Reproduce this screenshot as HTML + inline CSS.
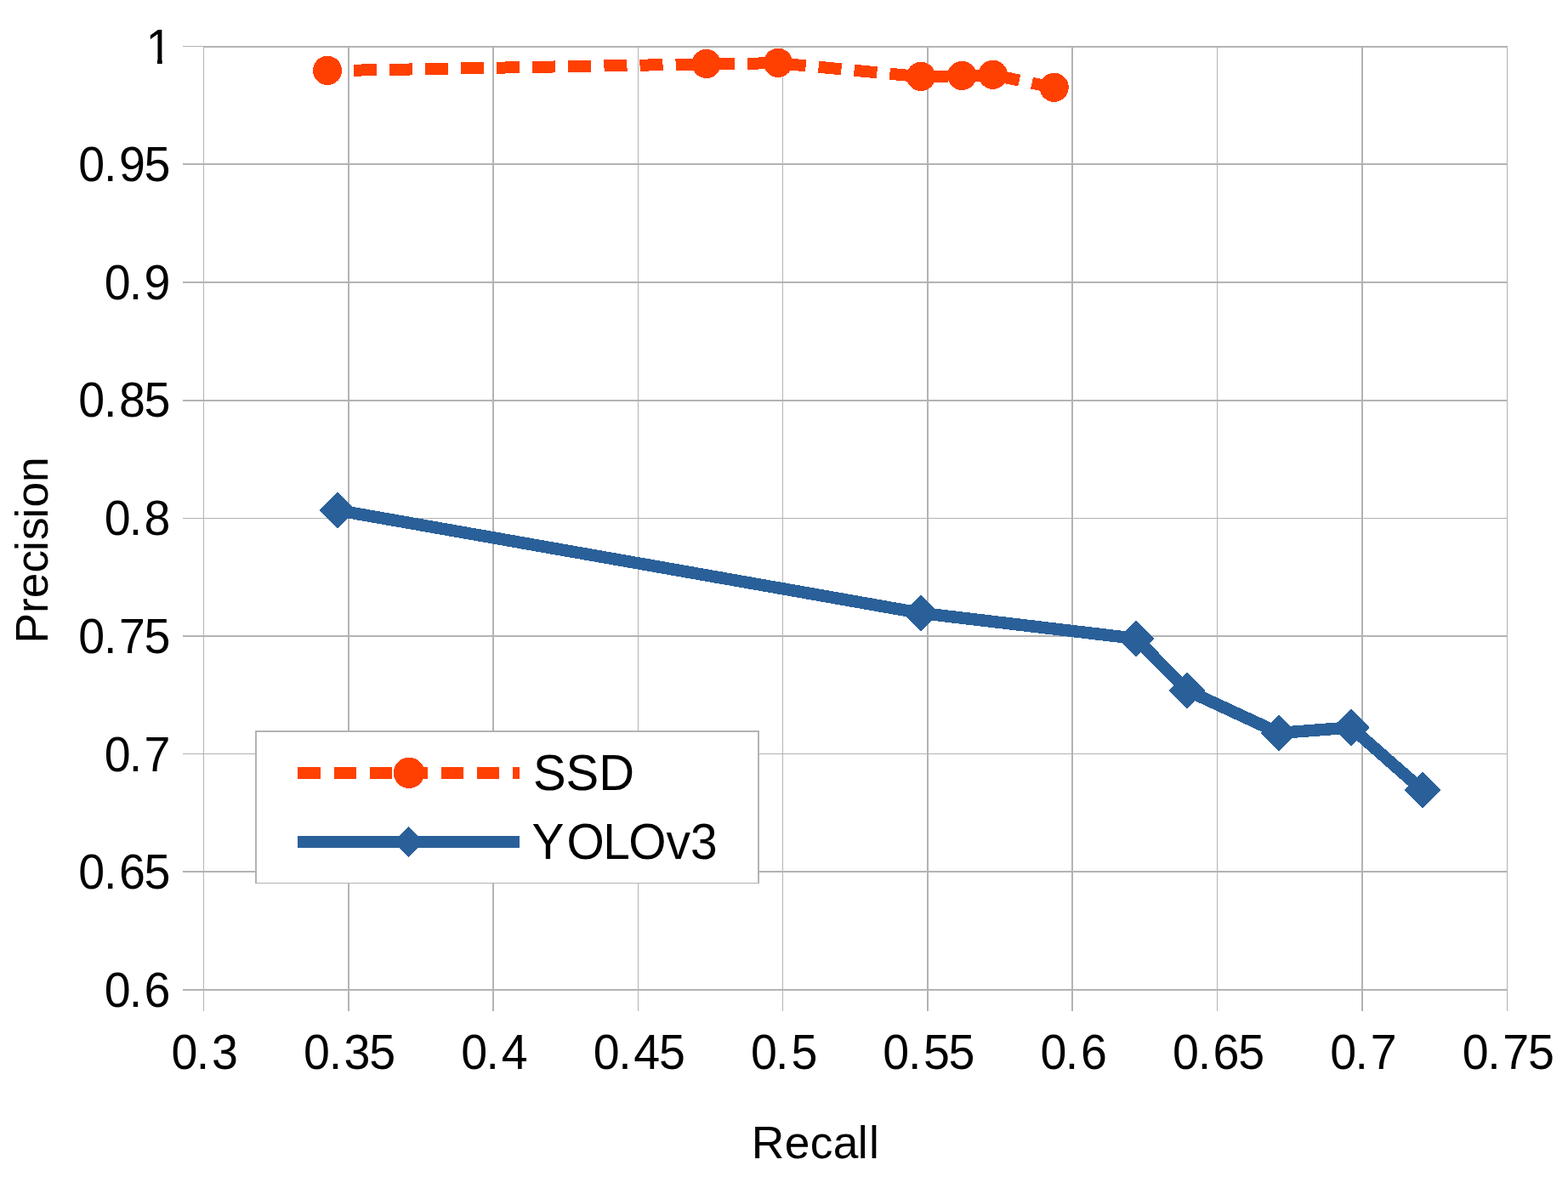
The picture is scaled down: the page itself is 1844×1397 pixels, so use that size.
<!DOCTYPE html>
<html lang="en">
<head>
<meta charset="utf-8">
<title>Precision vs Recall: SSD and YOLOv3</title>
<style>
html,body{margin:0;padding:0;background:#fff;width:1844px;height:1397px;overflow:hidden}
svg{display:block;position:absolute;left:0;top:0}
text{font-family:"Liberation Sans",Arial,Helvetica,sans-serif;fill:#000;white-space:pre}
.grid rect{fill:#b3b3b3}
.ssd{stroke:#ff4000;fill:none}
.ssd-m{fill:#ff4000}
.yolo{stroke:#2a6099;fill:none}
.yolo-m{fill:#2a6099}
</style>
</head>
<body>
<svg width="1844" height="1397" viewBox="0 0 1844 1397" role="img" aria-label="Precision-recall chart comparing SSD and YOLOv3">
<rect x="0" y="0" width="1844" height="1397" fill="#fff"/>
<g class="grid" shape-rendering="crispEdges">
<rect x="215" y="54" width="1558" height="1"/>
<rect x="239" y="55" width="1534" height="1"/>
<rect x="215" y="192" width="1558" height="2"/>
<rect x="215" y="331" width="1558" height="2"/>
<rect x="215" y="470" width="1558" height="2"/>
<rect x="215" y="609" width="1558" height="1"/>
<rect x="215" y="747" width="1558" height="2"/>
<rect x="215" y="886" width="1558" height="1"/>
<rect x="215" y="1024" width="1558" height="2"/>
<rect x="215" y="1163" width="1558" height="2"/>
<rect x="239" y="54" width="1" height="1135"/>
<rect x="409" y="54" width="2" height="1135"/>
<rect x="579" y="54" width="2" height="1135"/>
<rect x="750" y="54" width="1" height="1135"/>
<rect x="920" y="54" width="1" height="1135"/>
<rect x="1090" y="54" width="2" height="1135"/>
<rect x="1260" y="54" width="2" height="1135"/>
<rect x="1431" y="54" width="1" height="1135"/>
<rect x="1601" y="54" width="2" height="1135"/>
<rect x="1772" y="54" width="1" height="1135"/>
</g>
<g shape-rendering="crispEdges">
<polyline class="yolo" points="397.06,600.08 1083.24,720.96 1336.06,750.90 1396.20,811.95 1504.16,862.00 1588.90,855.40 1672.80,929.10" stroke-width="14.40" stroke-linejoin="round"/>
<polygon class="yolo-m" stroke="#2a6099" stroke-width="1" stroke-linejoin="bevel" points="397.00,579.00 418.00,600.00 397.00,621.00 376.00,600.00"/>
<polygon class="yolo-m" stroke="#2a6099" stroke-width="1" stroke-linejoin="bevel" points="1083.20,699.95 1104.20,720.95 1083.20,741.95 1062.20,720.95"/>
<polygon class="yolo-m" stroke="#2a6099" stroke-width="1" stroke-linejoin="bevel" points="1336.05,729.90 1357.05,750.90 1336.05,771.90 1315.05,750.90"/>
<polygon class="yolo-m" stroke="#2a6099" stroke-width="1" stroke-linejoin="bevel" points="1396.20,790.95 1417.20,811.95 1396.20,832.95 1375.20,811.95"/>
<polygon class="yolo-m" stroke="#2a6099" stroke-width="1" stroke-linejoin="bevel" points="1504.15,841.00 1525.15,862.00 1504.15,883.00 1483.15,862.00"/>
<polygon class="yolo-m" stroke="#2a6099" stroke-width="1" stroke-linejoin="bevel" points="1588.95,834.40 1609.95,855.40 1588.95,876.40 1567.95,855.40"/>
<polygon class="yolo-m" stroke="#2a6099" stroke-width="1" stroke-linejoin="bevel" points="1673.05,907.95 1694.05,928.95 1673.05,949.95 1652.05,928.95"/>
<polyline class="ssd" points="385.05,83.22 830.70,75.30 915.06,74.21 1083.10,90.24 1131.30,89.24 1167.70,88.09 1239.65,103.14" stroke-width="14.00" stroke-dasharray="27.00 15.07" stroke-dashoffset="11.10" stroke-linejoin="round"/>
<circle class="ssd-m" cx="385.05" cy="82.88" r="17.10"/>
<circle class="ssd-m" cx="830.70" cy="74.96" r="17.10"/>
<circle class="ssd-m" cx="915.06" cy="73.87" r="17.10"/>
<circle class="ssd-m" cx="1083.10" cy="89.90" r="17.10"/>
<circle class="ssd-m" cx="1131.30" cy="88.90" r="17.10"/>
<circle class="ssd-m" cx="1167.70" cy="87.75" r="17.10"/>
<circle class="ssd-m" cx="1239.65" cy="102.80" r="17.10"/>
</g>
<g shape-rendering="crispEdges">
<rect x="300" y="859" width="593" height="180" fill="#b3b3b3"/>
<rect x="302" y="861" width="589" height="177" fill="#fff"/>
<line class="ssd" x1="350" y1="909" x2="611" y2="909" stroke-width="14" stroke-dasharray="27 16 26 16 26 16 26 16 26 16 26 16 8 60"/>
<circle class="ssd-m" cx="481" cy="908.85" r="18.2"/>
<line class="yolo" x1="350" y1="990" x2="611" y2="990" stroke-width="14"/>
<polygon class="yolo-m" stroke="#2a6099" stroke-width="1" stroke-linejoin="bevel" points="480.5,972.25 498.2,989.95 480.5,1007.65 462.8,989.95"/>
</g>
<defs><clipPath id="one"><rect x="169.40" y="20" width="40" height="49.76"/><rect x="184.92" y="30" width="5.81" height="60"/></clipPath></defs>
<g font-size="55.56">
<g clip-path="url(#one)"><text transform="translate(171.40 75.00) scale(1 1.0465)">1</text></g>
<text x="92.36 121.96 139.90 169.60" transform="translate(0 213.00) scale(1 1.0170)">0.95</text>
<text x="122.66 151.86 169.60" transform="translate(0 352.00) scale(1 1.0170)">0.9</text>
<text x="92.36 121.96 139.90 169.60" transform="translate(0 490.00) scale(1 1.0170)">0.85</text>
<text x="122.66 151.86 169.60" transform="translate(0 629.00) scale(1 1.0170)">0.8</text>
<text x="92.36 121.96 139.90 169.60" transform="translate(0 768.00) scale(1 1.0170)">0.75</text>
<text x="122.66 151.86 169.60" transform="translate(0 907.00) scale(1 1.0170)">0.7</text>
<text x="92.36 121.96 139.90 169.60" transform="translate(0 1045.00) scale(1 1.0170)">0.65</text>
<text x="122.66 151.86 169.60" transform="translate(0 1184.00) scale(1 1.0170)">0.6</text>
<text x="201.58 230.78 249.12" transform="translate(0 1257.00) scale(1 1.0170)">0.3</text>
<text x="357.06 386.66 404.60 434.30" transform="translate(0 1257.00) scale(1 1.0170)">0.35</text>
<text x="542.24 571.44 589.78" transform="translate(0 1257.00) scale(1 1.0170)">0.4</text>
<text x="697.72 727.32 745.26 774.96" transform="translate(0 1257.00) scale(1 1.0170)">0.45</text>
<text x="882.90 912.10 930.44" transform="translate(0 1257.00) scale(1 1.0170)">0.5</text>
<text x="1038.38 1067.98 1085.92 1115.62" transform="translate(0 1257.00) scale(1 1.0170)">0.55</text>
<text x="1223.56 1252.76 1271.10" transform="translate(0 1257.00) scale(1 1.0170)">0.6</text>
<text x="1379.04 1408.64 1426.58 1456.28" transform="translate(0 1257.00) scale(1 1.0170)">0.65</text>
<text x="1564.22 1593.42 1611.76" transform="translate(0 1257.00) scale(1 1.0170)">0.7</text>
<text x="1719.70 1749.30 1767.24 1796.94" transform="translate(0 1257.00) scale(1 1.0170)">0.75</text>
</g>
<g font-size="53.30">
<text transform="translate(959.00 1361.80) scale(1 1.0000)" text-anchor="middle" letter-spacing="0.40" dx="0 0 0 0 -1.2 1">Recall</text>
<text transform="translate(56.30 646.90) rotate(-90) scale(1 1.0000)" text-anchor="middle" letter-spacing="0.00" dx="0 0 0 0 -1 1 -1 1 0">Precision</text>
</g>
<g>
<text font-size="57.90" transform="translate(627.00 929.00) scale(1 1.0300)">SSD</text>
<text font-size="56.90" dx="0 3.1 -1.4 -1.7 0 0" transform="translate(625.40 1009.50) scale(1 1.0300)">YOLOv3</text>
</g>
</svg>
</body>
</html>
